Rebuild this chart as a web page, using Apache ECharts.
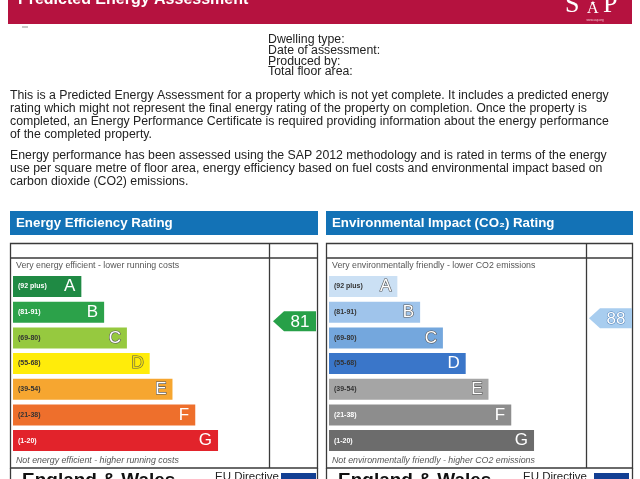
<!DOCTYPE html>
<html><head><meta charset="utf-8">
<script src="https://cdn.jsdelivr.net/npm/echarts@6/dist/echarts.min.js"></script>
<style>html,body{margin:0;padding:0;background:#fff}#c{width:640px;height:479px}</style>
</head><body><div id="c"></div>
<script>
// ---- data ----
const bands = ['A', 'B', 'C', 'D', 'E', 'F', 'G'];
const ranges = ['(92 plus)', '(81-91)', '(69-80)', '(55-68)', '(39-54)', '(21-38)', '(1-20)'];
const bandMin = [92, 81, 69, 55, 39, 21, 1];
const barLengths = [3, 4, 5, 6, 7, 8, 9];
const energyColors = ['#1f8a44', '#2ca24a', '#96c93f', '#ffec0a', '#f6a630', '#ee6f2c', '#e2232b'];
const envColors = ['#cbe0f4', '#9fc4eb', '#74a7dd', '#3a76c9', '#a5a5a5', '#8d8d8d', '#6c6c6c'];
const energyRangeText = ['#fff', '#fff', '#333', '#333', '#333', '#333', '#fff'];
const envRangeText = ['#333', '#333', '#333', '#333', '#333', '#fff', '#fff'];
const energyLetterBorder = [0, 0, 1, 1, 1, 0, 0];
const envLetterBorder = [1, 1, 1, 0, 1, 0, 0];
const energyRating = 81;
const envRating = 88;
const dwellingLines = ['Dwelling type:', 'Date of assessment:', 'Produced by:', 'Total floor area:'];
const para1 = [
  'This is a Predicted Energy Assessment for a property which is not yet complete. It includes a predicted energy',
  'rating which might not represent the final energy rating of the property on completion. Once the property is',
  'completed, an Energy Performance Certificate is required providing information about the energy performance',
  'of the completed property.'
];
const para2 = [
  'Energy performance has been assessed using the SAP 2012 methodology and is rated in terms of the energy',
  'use per square metre of floor area, energy efficiency based on fuel costs and environmental impact based on',
  'carbon dioxide (CO2) emissions.'
];

// ---- helpers ----
const FONT = '"Liberation Sans", Arial, "DejaVu Sans", sans-serif';
const SERIF = '"Liberation Serif", "DejaVu Serif", serif';
function bandOf(r) { for (let i = 0; i < bandMin.length; i++) if (r >= bandMin[i]) return i; return bandMin.length - 1; }

function barSeries(gi, colors, rangeText, letterBorder) {
  return [{
    type: 'bar', xAxisIndex: gi, yAxisIndex: gi, barWidth: 21, silent: true,
    data: barLengths.map((v, i) => ({
      value: v, itemStyle: { color: colors[i] },
      label: { color: rangeText[i] }
    })),
    label: {
      show: true, position: 'insideLeft', distance: 5,
      formatter: p => ranges[p.dataIndex],
      fontSize: 7, fontWeight: 'bold', fontFamily: FONT
    }
  }, {
    type: 'bar', xAxisIndex: gi, yAxisIndex: gi, barWidth: 21, barGap: '-100%', silent: true,
    data: barLengths.map((v, i) => ({
      value: v,
      label: letterBorder[i] ? { textBorderColor: '#555', textBorderWidth: 1.2, color: colors[i] === '#ffec0a' ? '#f4e200' : '#fff' } : {}
    })),
    itemStyle: { color: 'rgba(0,0,0,0)' },
    label: {
      show: true, position: 'insideRight', distance: 6,
      formatter: p => bands[p.dataIndex],
      fontSize: 17, color: '#fff', fontFamily: FONT
    }
  }];
}

function markerSeries(gi, rating, fill, textStyle, dy) {
  return {
    type: 'custom', xAxisIndex: gi, yAxisIndex: gi, silent: true, clip: false,
    data: [[0, bandOf(rating), rating]],
    encode: { x: 0, y: 1 },
    renderItem: (params, api) => {
      const p = api.coord([0, api.value(1)]);
      const cs = params.coordSys;
      const right = cs.x + cs.width;
      const left = right - 43;
      const yc = p[1] + dy, h = 10;
      return {
        type: 'group', children: [
          { type: 'polygon', shape: { points: [[left, yc], [left + 11, yc - h], [right, yc - h], [right, yc + h], [left + 11, yc + h]] }, style: { fill: fill } },
          { type: 'text', style: Object.assign({ text: String(api.value(2)), x: left + 27, y: yc + 1, align: 'center', verticalAlign: 'middle', fontSize: 17, fontFamily: FONT }, textStyle) }
        ]
      };
    }
  };
}

const graphics = [];
// header bar
graphics.push({ type: 'rect', shape: { x: 8, y: -10, width: 624, height: 34 }, style: { fill: '#b5123f' } });
graphics.push({ type: 'text', style: { text: 'Predicted Energy Assessment', x: 18, y: 0, verticalAlign: 'middle', fill: '#fff', font: 'bold 16px ' + FONT } });
graphics.push({ type: 'text', style: { text: 'S', x: 565, y: 18, verticalAlign: 'bottom', fill: '#fff', font: '26px ' + SERIF } });
graphics.push({ type: 'text', style: { text: 'A', x: 587, y: 17, verticalAlign: 'bottom', fill: '#fff', font: '16px ' + SERIF } });
graphics.push({ type: 'text', style: { text: 'P', x: 603, y: 18, verticalAlign: 'bottom', fill: '#fff', font: '26px ' + SERIF } });
graphics.push({ type: 'text', style: { text: '★', x: 593, y: 3, align: 'center', verticalAlign: 'middle', fill: '#fff', font: '6px "DejaVu Sans"' } });
graphics.push({ type: 'text', style: { text: 'www.sap.org', x: 595, y: 20, align: 'center', verticalAlign: 'middle', fill: '#f3c6d2', font: '3px ' + FONT } });
graphics.push({ type: 'rect', shape: { x: 22, y: 26, width: 6, height: 2 }, style: { fill: '#c8c8c8' } });

// dwelling info
dwellingLines.forEach((t, i) => graphics.push({ type: 'text', style: { text: t, x: 268, y: 40 + i * 10.7, verticalAlign: 'middle', fill: '#222', font: '12.3px ' + FONT } }));
para1.forEach((t, i) => graphics.push({ type: 'text', style: { text: t, x: 10, y: 96 + i * 13, verticalAlign: 'middle', fill: '#222', font: '12.3px ' + FONT } }));
para2.forEach((t, i) => graphics.push({ type: 'text', style: { text: t, x: 10, y: 156 + i * 13, verticalAlign: 'middle', fill: '#222', font: '12.3px ' + FONT } }));

function panel(x0, x1, divX, title, topNote, bottomNote, euX, flagX) {
  graphics.push({ type: 'rect', shape: { x: x0, y: 211, width: x1 - x0, height: 24 }, style: { fill: '#1372b6' } });
  graphics.push({ type: 'text', style: { text: title, x: x0 + 6, y: 223, verticalAlign: 'middle', fill: '#fff', font: 'bold 13.3px ' + FONT } });
  const st = { stroke: '#3a3a3a', lineWidth: 1.3, fill: null };
  graphics.push({ type: 'rect', shape: { x: x0 + 0.5, y: 243.5, width: x1 - x0 - 1, height: 224.5 }, style: st });
  graphics.push({ type: 'line', shape: { x1: x0, y1: 258, x2: x1, y2: 258 }, style: st });
  graphics.push({ type: 'line', shape: { x1: divX, y1: 243, x2: divX, y2: 468 }, style: st });
  graphics.push({ type: 'line', shape: { x1: x0 + 0.5, y1: 468, x2: x0 + 0.5, y2: 480 }, style: st });
  graphics.push({ type: 'line', shape: { x1: x1 - 0.5, y1: 468, x2: x1 - 0.5, y2: 480 }, style: st });
  graphics.push({ type: 'text', style: { text: topNote, x: x0 + 6, y: 266, verticalAlign: 'middle', fill: '#555', font: '8.8px ' + FONT } });
  graphics.push({ type: 'text', style: { text: bottomNote, x: x0 + 6, y: 461, verticalAlign: 'middle', fill: '#555', font: 'italic 8.8px ' + FONT } });
  graphics.push({ type: 'text', style: { text: 'England & Wales', x: x0 + 12, y: 471, verticalAlign: 'top', fill: '#111', font: 'bold 19px ' + FONT } });
  graphics.push({ type: 'text', style: { text: 'EU Directive', x: euX, y: 471, verticalAlign: 'top', fill: '#222', font: '11.5px ' + FONT } });
  graphics.push({ type: 'rect', shape: { x: flagX, y: 473, width: 35, height: 10 }, style: { fill: '#123f93' } });
}
panel(10, 318, 269.5, 'Energy Efficiency Rating', 'Very energy efficient - lower running costs', 'Not energy efficient - higher running costs', 215, 281);
panel(326, 633, 586.5, 'Environmental Impact (CO\u2082) Rating', 'Very environmentally friendly - lower CO2 emissions', 'Not environmentally friendly - higher CO2 emissions', 523, 594);

const chart = echarts.init(document.getElementById('c'));
const gridTop = 273.7, gridH = 179.7;
chart.setOption({
  animation: false,
  grid: [
    { left: 13, top: gridTop, width: 303, height: gridH },
    { left: 329, top: gridTop, width: 303, height: gridH }
  ],
  xAxis: [0, 1].map(i => ({ gridIndex: i, type: 'value', min: 0, max: 13.3, show: false })),
  yAxis: [0, 1].map(i => ({ gridIndex: i, type: 'category', data: bands, inverse: true, show: false })),
  graphic: graphics,
  series: [
    ...barSeries(0, energyColors, energyRangeText, energyLetterBorder),
    ...barSeries(1, envColors, envRangeText, envLetterBorder),
    markerSeries(0, energyRating, '#27a048', { fill: '#fff' }, 9),
    markerSeries(1, envRating, '#a8cdef', { fill: '#fff', stroke: '#4f7fb5', lineWidth: 1 }, 6)
  ]
});
</script></body></html>
